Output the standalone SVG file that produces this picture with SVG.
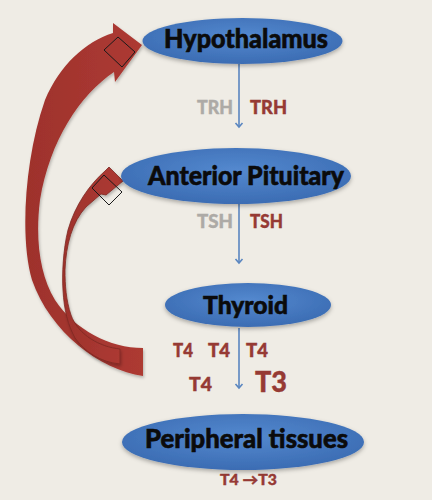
<svg xmlns="http://www.w3.org/2000/svg" width="432" height="500" viewBox="0 0 432 500">
<defs>
<style>
.node{fill:url(#blue);filter:url(#sh)}
.lbl{font-family:Lato,"Liberation Sans",sans-serif;font-weight:900;fill:#0b0b0b;stroke:#0b0b0b;stroke-width:0.6}
.hor{font-family:Lato,"Liberation Sans",sans-serif;font-weight:900;fill:#963a34;stroke:#963a34;stroke-width:0.4}
.gry{font-family:Lato,"Liberation Sans",sans-serif;font-weight:900;fill:#adaaa6;stroke:#adaaa6;stroke-width:0.4}
.bl{stroke:#5a86c0;stroke-width:1.6;fill:none;marker-end:url(#ah)}
.red{fill:url(#redg);filter:url(#sh2)}
.sq{fill:none;stroke:#1a1a1a;stroke-width:1}
</style>
<radialGradient id="blue" cx="0.5" cy="0.4" r="0.6">
<stop offset="0" stop-color="#5489cf"/>
<stop offset="1" stop-color="#3b6cb3"/>
</radialGradient>
<linearGradient id="redg" x1="0" y1="0" x2="1" y2="0">
<stop offset="0" stop-color="#9e322c"/>
<stop offset="1" stop-color="#ad3a33"/>
</linearGradient>
<filter id="sh" x="-10%" y="-20%" width="120%" height="150%">
<feDropShadow dx="0" dy="2" stdDeviation="2" flood-color="#000" flood-opacity="0.3"/>
</filter>
<filter id="sh2" x="-20%" y="-10%" width="140%" height="120%">
<feDropShadow dx="1" dy="2" stdDeviation="1.5" flood-color="#000" flood-opacity="0.25"/>
</filter>
<marker id="ah" markerWidth="10" markerHeight="10" refX="5" refY="5" orient="auto" markerUnits="userSpaceOnUse">
<path d="M1,1.5 L5,5 L1,8.5" fill="none" stroke="#5a86c0" stroke-width="1.6"/>
</marker>
</defs>
<rect width="432" height="500" fill="#efece5"/>

<g id="connectors">
<line class="bl" x1="239" y1="64" x2="239" y2="127"/>
<line class="bl" x1="239" y1="204" x2="239" y2="263"/>
<line class="bl" x1="239" y1="328" x2="239" y2="388"/>
<g id="feedback-hypothalamus">
<path class="red" d="M143,376 C100,370 50,332 32,280 C20,240 24,160 45,100 C60,65 85,42 113,33 L113,23 L142,45 L115,82 L114,72 C80,95 50,140 40,200 C35,240 40,275 55,300 C75,330 110,348 143,348 Z"/>
<polygon class="sq" points="104,50 118,37 135,52 122,67"/>
</g>
<g id="feedback-pituitary">
<path class="red" d="M120,349 C100,347 78,335 71,315 C66,300 65,285 65,270 C66,245 72,222 86,207 L101,194 L106,195 L123,181 L109,167 L105,171 C90,184 75,205 68,230 C63,250 62,275 63,290 C64,310 68,325 75,338 C85,352 100,362 120,364 Z" stroke="#7e2822" stroke-width="0.8"/>
<polygon class="sq" points="92,188 104,175 122,192 109,205"/>
</g>
</g>

<g id="hypothalamus">
<ellipse class="node" cx="242.5" cy="41" rx="100" ry="23"/>
<text class="lbl" x="164" y="48" font-size="26" textLength="164" lengthAdjust="spacingAndGlyphs">Hypothalamus</text>
</g>
<g id="trh">
<text class="gry" x="197" y="114" font-size="19" textLength="36" lengthAdjust="spacingAndGlyphs">TRH</text>
<text class="hor" x="250" y="114" font-size="19" textLength="37" lengthAdjust="spacingAndGlyphs">TRH</text>
</g>
<g id="anterior-pituitary">
<ellipse class="node" cx="236" cy="176" rx="115" ry="28"/>
<text class="lbl" x="148" y="185" font-size="27" textLength="196" lengthAdjust="spacingAndGlyphs">Anterior Pituitary</text>
</g>
<g id="tsh">
<text class="gry" x="197" y="228" font-size="19" textLength="36" lengthAdjust="spacingAndGlyphs">TSH</text>
<text class="hor" x="250" y="228" font-size="19" textLength="33" lengthAdjust="spacingAndGlyphs">TSH</text>
</g>
<g id="thyroid">
<ellipse class="node" cx="248" cy="305" rx="83" ry="22"/>
<text class="lbl" x="203" y="314" font-size="25" textLength="85" lengthAdjust="spacingAndGlyphs">Thyroid</text>
</g>
<g id="hormones">
<text class="hor" x="173" y="357" font-size="19" textLength="20" lengthAdjust="spacingAndGlyphs">T4</text>
<text class="hor" x="208" y="357" font-size="19" textLength="22" lengthAdjust="spacingAndGlyphs">T4</text>
<text class="hor" x="246" y="357" font-size="19" textLength="22" lengthAdjust="spacingAndGlyphs">T4</text>
<text class="hor" x="189" y="391" font-size="19" textLength="23" lengthAdjust="spacingAndGlyphs">T4</text>
<text class="hor" x="255" y="392" font-size="29" textLength="32" lengthAdjust="spacingAndGlyphs">T3</text>
</g>
<g id="peripheral-tissues">
<text class="hor" x="220" y="485" font-size="15" textLength="57" lengthAdjust="spacingAndGlyphs">T4 →T3</text>
<ellipse class="node" cx="243" cy="442" rx="121" ry="28"/>
<text class="lbl" x="145" y="448" font-size="27" textLength="203" lengthAdjust="spacingAndGlyphs">Peripheral tissues</text>
</g>
</svg>
